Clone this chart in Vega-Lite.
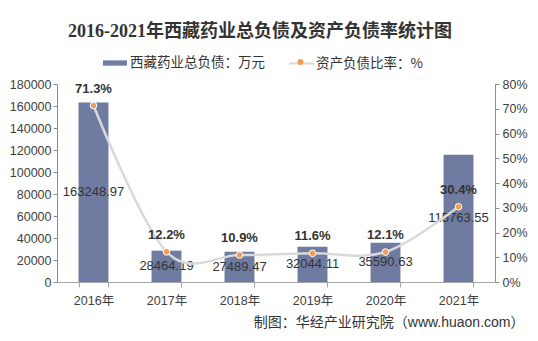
{
  "$schema": "https://vega.github.io/schema/vega-lite/v6.json",
  "width": 438,
  "height": 198,
  "autosize": {"type": "none"},
  "padding": {"left": 57, "top": 84, "right": 43, "bottom": 59},
  "background": "white",
  "title": {
    "text": "2016-2021年西藏药业总负债及资产负债率统计图",
    "font": "Liberation Serif, Noto Sans CJK SC",
    "fontSize": 18,
    "fontWeight": "bold",
    "color": "#333333",
    "anchor": "middle",
    "frame": "group",
    "offset": 9,
    "dx": -16
  },
  "data": {
    "values": [
      {"year": "2016年", "debt": 163248.97, "ratio": 0.713},
      {"year": "2017年", "debt": 28464.19, "ratio": 0.122},
      {"year": "2018年", "debt": 27489.47, "ratio": 0.109},
      {"year": "2019年", "debt": 32044.11, "ratio": 0.116},
      {"year": "2020年", "debt": 35590.63, "ratio": 0.121},
      {"year": "2021年", "debt": 115763.55, "ratio": 0.304}
    ]
  },
  "encoding": {
    "x": {
      "field": "year",
      "type": "ordinal",
      "scale": {"paddingInner": 0.59, "paddingOuter": 0.295},
      "axis": {
        "title": "制图：华经产业研究院（www.huaon.com）",
        "titleFont": "Liberation Sans, Noto Sans CJK SC",
        "titleFontSize": 14,
        "titleFontWeight": "normal",
        "titleColor": "#333333",
        "titleX": 467,
        "titleY": 40,
        "titleAlign": "right",
        "titleBaseline": "middle",
        "labelAngle": 0,
        "labelFont": "Liberation Sans, Noto Sans CJK SC",
        "labelFontSize": 12.5,
        "labelColor": "#404040",
        "labelPadding": 7,
        "tickBand": "extent",
        "tickSize": 5,
        "domainColor": "#A6A6A6",
        "tickColor": "#A6A6A6",
        "grid": false
      }
    }
  },
  "layer": [
    {
      "mark": {"type": "bar"},
      "encoding": {
        "y": {
          "field": "debt",
          "type": "quantitative",
          "scale": {"domain": [0, 180000]},
          "axis": {
            "orient": "left",
            "title": null,
            "values": [0, 20000, 40000, 60000, 80000, 100000, 120000, 140000, 160000, 180000],
            "format": "d",
            "labelFont": "Liberation Sans",
            "labelFontSize": 12.5,
            "labelColor": "#404040",
            "labelPadding": 2,
            "tickSize": 4,
            "domainColor": "#8C8C8C",
            "tickColor": "#8C8C8C",
            "grid": false
          }
        },
        "color": {
          "datum": "西藏药业总负债：万元",
          "scale": {"domain": ["西藏药业总负债：万元"], "range": ["#6F7BA1"]},
          "legend": {
            "title": null,
            "orient": "none",
            "legendX": 45,
            "legendY": -34,
            "padding": 0,
            "symbolType": "M-1,-0.22H1V0.22H-1Z",
            "symbolSize": 576,
            "labelFont": "Noto Sans CJK SC",
            "labelFontSize": 13.5,
            "labelColor": "#333333",
            "labelOffset": 2
          }
        }
      }
    },
    {
      "mark": {"type": "text", "font": "Liberation Sans", "fontSize": 13, "color": "#333333", "baseline": "middle"},
      "encoding": {
        "y": {"field": "debt", "type": "quantitative", "scale": {"domain": [0, 360000]}, "axis": null},
        "text": {"field": "debt", "type": "quantitative", "format": ".2f"}
      }
    },
    {
      "mark": {"type": "line", "interpolate": "cardinal", "strokeWidth": 2.5},
      "encoding": {
        "y": {
          "field": "ratio",
          "type": "quantitative",
          "scale": {"domain": [0, 0.8]},
          "axis": {
            "orient": "right",
            "title": null,
            "values": [0, 0.1, 0.2, 0.3, 0.4, 0.5, 0.6, 0.7, 0.8],
            "format": ".0%",
            "labelFont": "Liberation Sans",
            "labelFontSize": 12.5,
            "labelColor": "#404040",
            "labelPadding": 3,
            "tickSize": 4,
            "domainColor": "#8C8C8C",
            "tickColor": "#8C8C8C",
            "grid": false
          }
        },
        "stroke": {
          "datum": "资产负债比率：%",
          "scale": {"domain": ["资产负债比率：%"], "range": ["#D9D9D9"]},
          "legend": {
            "title": null,
            "orient": "none",
            "legendX": 231,
            "legendY": -34,
            "padding": 0,
            "symbolType": "M-1,0H1",
            "symbolSize": 625,
            "symbolStrokeWidth": 2,
            "labelFont": "Noto Sans CJK SC",
            "labelFontSize": 13.5,
            "labelColor": "#333333",
            "labelOffset": 1
          }
        }
      }
    },
    {
      "mark": {"type": "point", "filled": true, "size": 45, "stroke": "white", "strokeWidth": 1, "opacity": 1},
      "encoding": {
        "y": {"field": "ratio", "type": "quantitative", "scale": {"domain": [0, 0.8]}, "axis": null},
        "fill": {
          "datum": "资产负债比率：%",
          "scale": {"domain": ["资产负债比率：%"], "range": ["#F29D55"]},
          "legend": {
            "title": null,
            "orient": "none",
            "legendX": 240.5,
            "legendY": -25,
            "padding": 0,
            "symbolType": "circle",
            "symbolSize": 36,
            "symbolStrokeWidth": 0,
            "labelExpr": "''",
            "labelFontSize": 1
          }
        }
      }
    },
    {
      "mark": {"type": "text", "font": "Liberation Sans", "fontSize": 13, "fontWeight": "bold", "color": "#333333", "baseline": "middle", "dy": -17},
      "encoding": {
        "y": {"field": "ratio", "type": "quantitative", "scale": {"domain": [0, 0.8]}, "axis": null},
        "text": {"field": "ratio", "type": "quantitative", "format": ".1%"}
      }
    }
  ],
  "resolve": {
    "scale": {"y": "independent", "color": "independent", "stroke": "independent", "fill": "independent"},
    "legend": {"color": "independent", "stroke": "independent", "fill": "independent"}
  },
  "config": {
    "view": {"stroke": null}
  }
}
